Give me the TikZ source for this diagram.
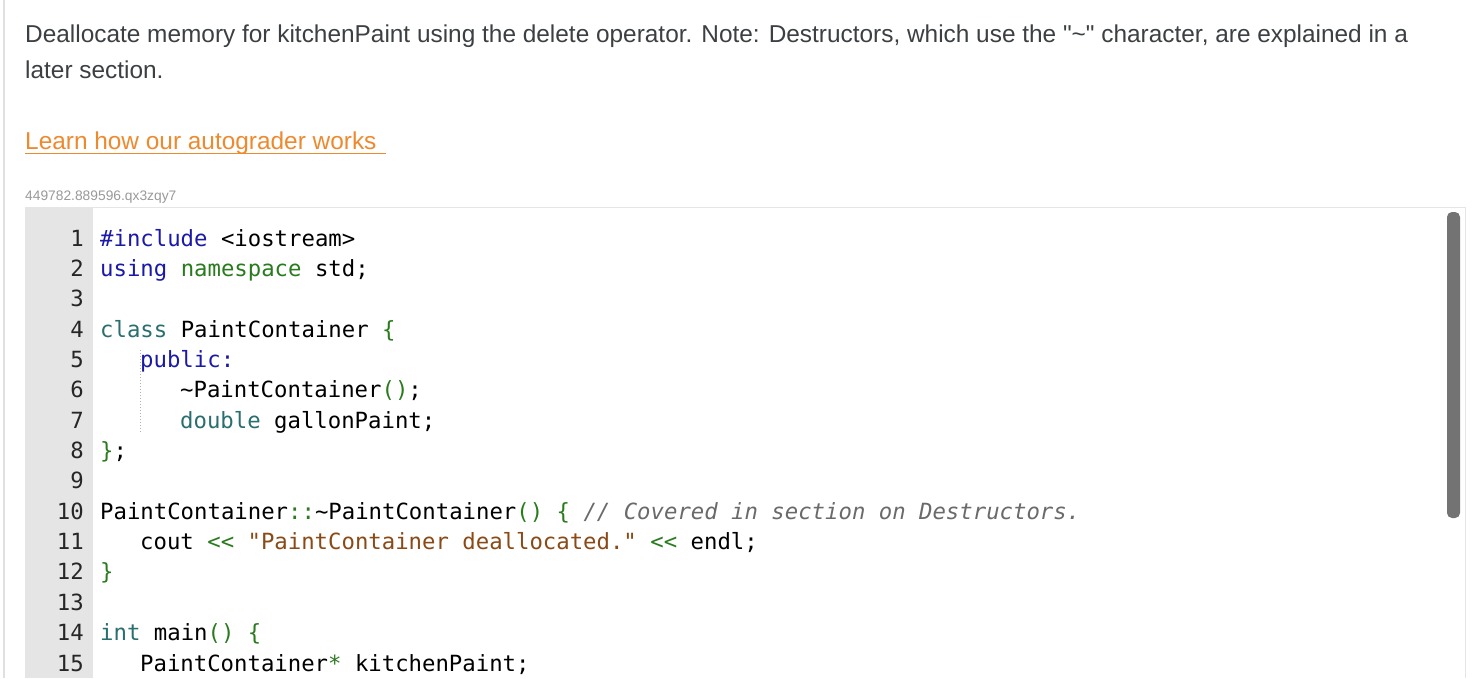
\documentclass[tikz,border=0pt]{standalone}
\usepackage{fontspec}
\setmainfont{Liberation Sans}[Ligatures=TeXOff]
\setmonofont{DejaVu Sans Mono}
\definecolor{kw}{HTML}{1A1AA6}
\definecolor{gr}{HTML}{2A7A1E}
\definecolor{tl}{HTML}{2A6E6E}
\definecolor{st}{HTML}{8A4A16}
\definecolor{cm}{HTML}{6A6A6A}
\definecolor{txt}{HTML}{3C4043}
\definecolor{org}{HTML}{EE8A2E}
\newcommand{\K}[1]{\textcolor{kw}{#1}}
\newcommand{\G}[1]{\textcolor{gr}{#1}}
\newcommand{\T}[1]{\textcolor{tl}{#1}}
\newcommand{\Sx}[1]{\textcolor{st}{#1}}
\newcommand{\Cm}[1]{\textcolor{cm}{\itshape #1}}
\newcommand{\tld}{\char`\~}
\begin{document}
\begin{tikzpicture}[x=1pt,y=-1pt,
  prose/.style={anchor=base west,inner sep=0pt,font=\fontsize{24.4}{28}\selectfont,text=txt},
  code/.style={anchor=base west,inner sep=0pt,font=\ttfamily\fontsize{22.3}{26}\selectfont},
  lnum/.style={anchor=base east,inner sep=0pt,font=\ttfamily\fontsize{22.3}{26}\selectfont,text=black!85}]
\useasboundingbox (0,0) rectangle (1472,678);
\fill[white] (0,0) rectangle (1472,678);
\draw[black!12,line width=1.5] (4,0) -- (4,678);
\node[prose] (p1) at (25,42) {Deallocate memory for kitchenPaint using the delete operator. Note: Destructors, which use the "\char`\~" character, are explained in a};
\node[prose] (p2) at (25,78) {later section.};
\node[prose,text=org] (lnk) at (25,149) {Learn how our autograder works};
\draw[org,line width=1] (lnk.base west) ++(0,4) -- ++(361,0);
\node[anchor=base west,inner sep=0pt,font=\fontsize{13.8}{16}\selectfont,text=black!40] (id) at (25,200) {449782.889596.qx3zqy7};
\fill[black!10] (25,207) rectangle (93,678);
\draw[black!10] (25,678) -- (25,207) -- (1465,207) -- (1465,678);
\fill[black!55,rounded corners=5] (1447,212) rectangle (1460,518);
\draw[black!30,dotted,line width=1] (140,350) -- (140,432);
\foreach \n in {1,...,15} {
  \node[lnum] (n\n) at (84,{246+(\n-1)*30.36}) {\n};
}
\newcommand{\Y}[1]{{246+(#1-1)*30.36}}
\node[code] (c1) at (100,\Y{1}) {\K{\#include} <iostream>};
\node[code] (c2) at (100,\Y{2}) {\K{using} \G{namespace} std;};
\node[code] (c4) at (100,\Y{4}) {\T{class} PaintContainer \G{\{}};
\node[code] (c5) at (140,\Y{5}) {\K{public}\K{:}};
\node[code] (c6) at (180,\Y{6}) {\tld PaintContainer\G{()};};
\node[code] (c7) at (180,\Y{7}) {\T{double} gallonPaint;};
\node[code] (c8) at (100,\Y{8}) {\G{\}};};
\node[code] (c10) at (100,\Y{10}) {PaintContainer\G{::}\tld PaintContainer\G{()} \G{\{} \Cm{// Covered in section on Destructors.}};
\node[code] (c11) at (140,\Y{11}) {cout \G{<<} \Sx{"PaintContainer deallocated."} \G{<<} endl;};
\node[code] (c12) at (100,\Y{12}) {\G{\}}};
\node[code] (c14) at (100,\Y{14}) {\T{int} main\G{()} \G{\{}};
\node[code] (c15) at (140,\Y{15}) {PaintContainer\G{*} kitchenPaint;};
\end{tikzpicture}
\end{document}
